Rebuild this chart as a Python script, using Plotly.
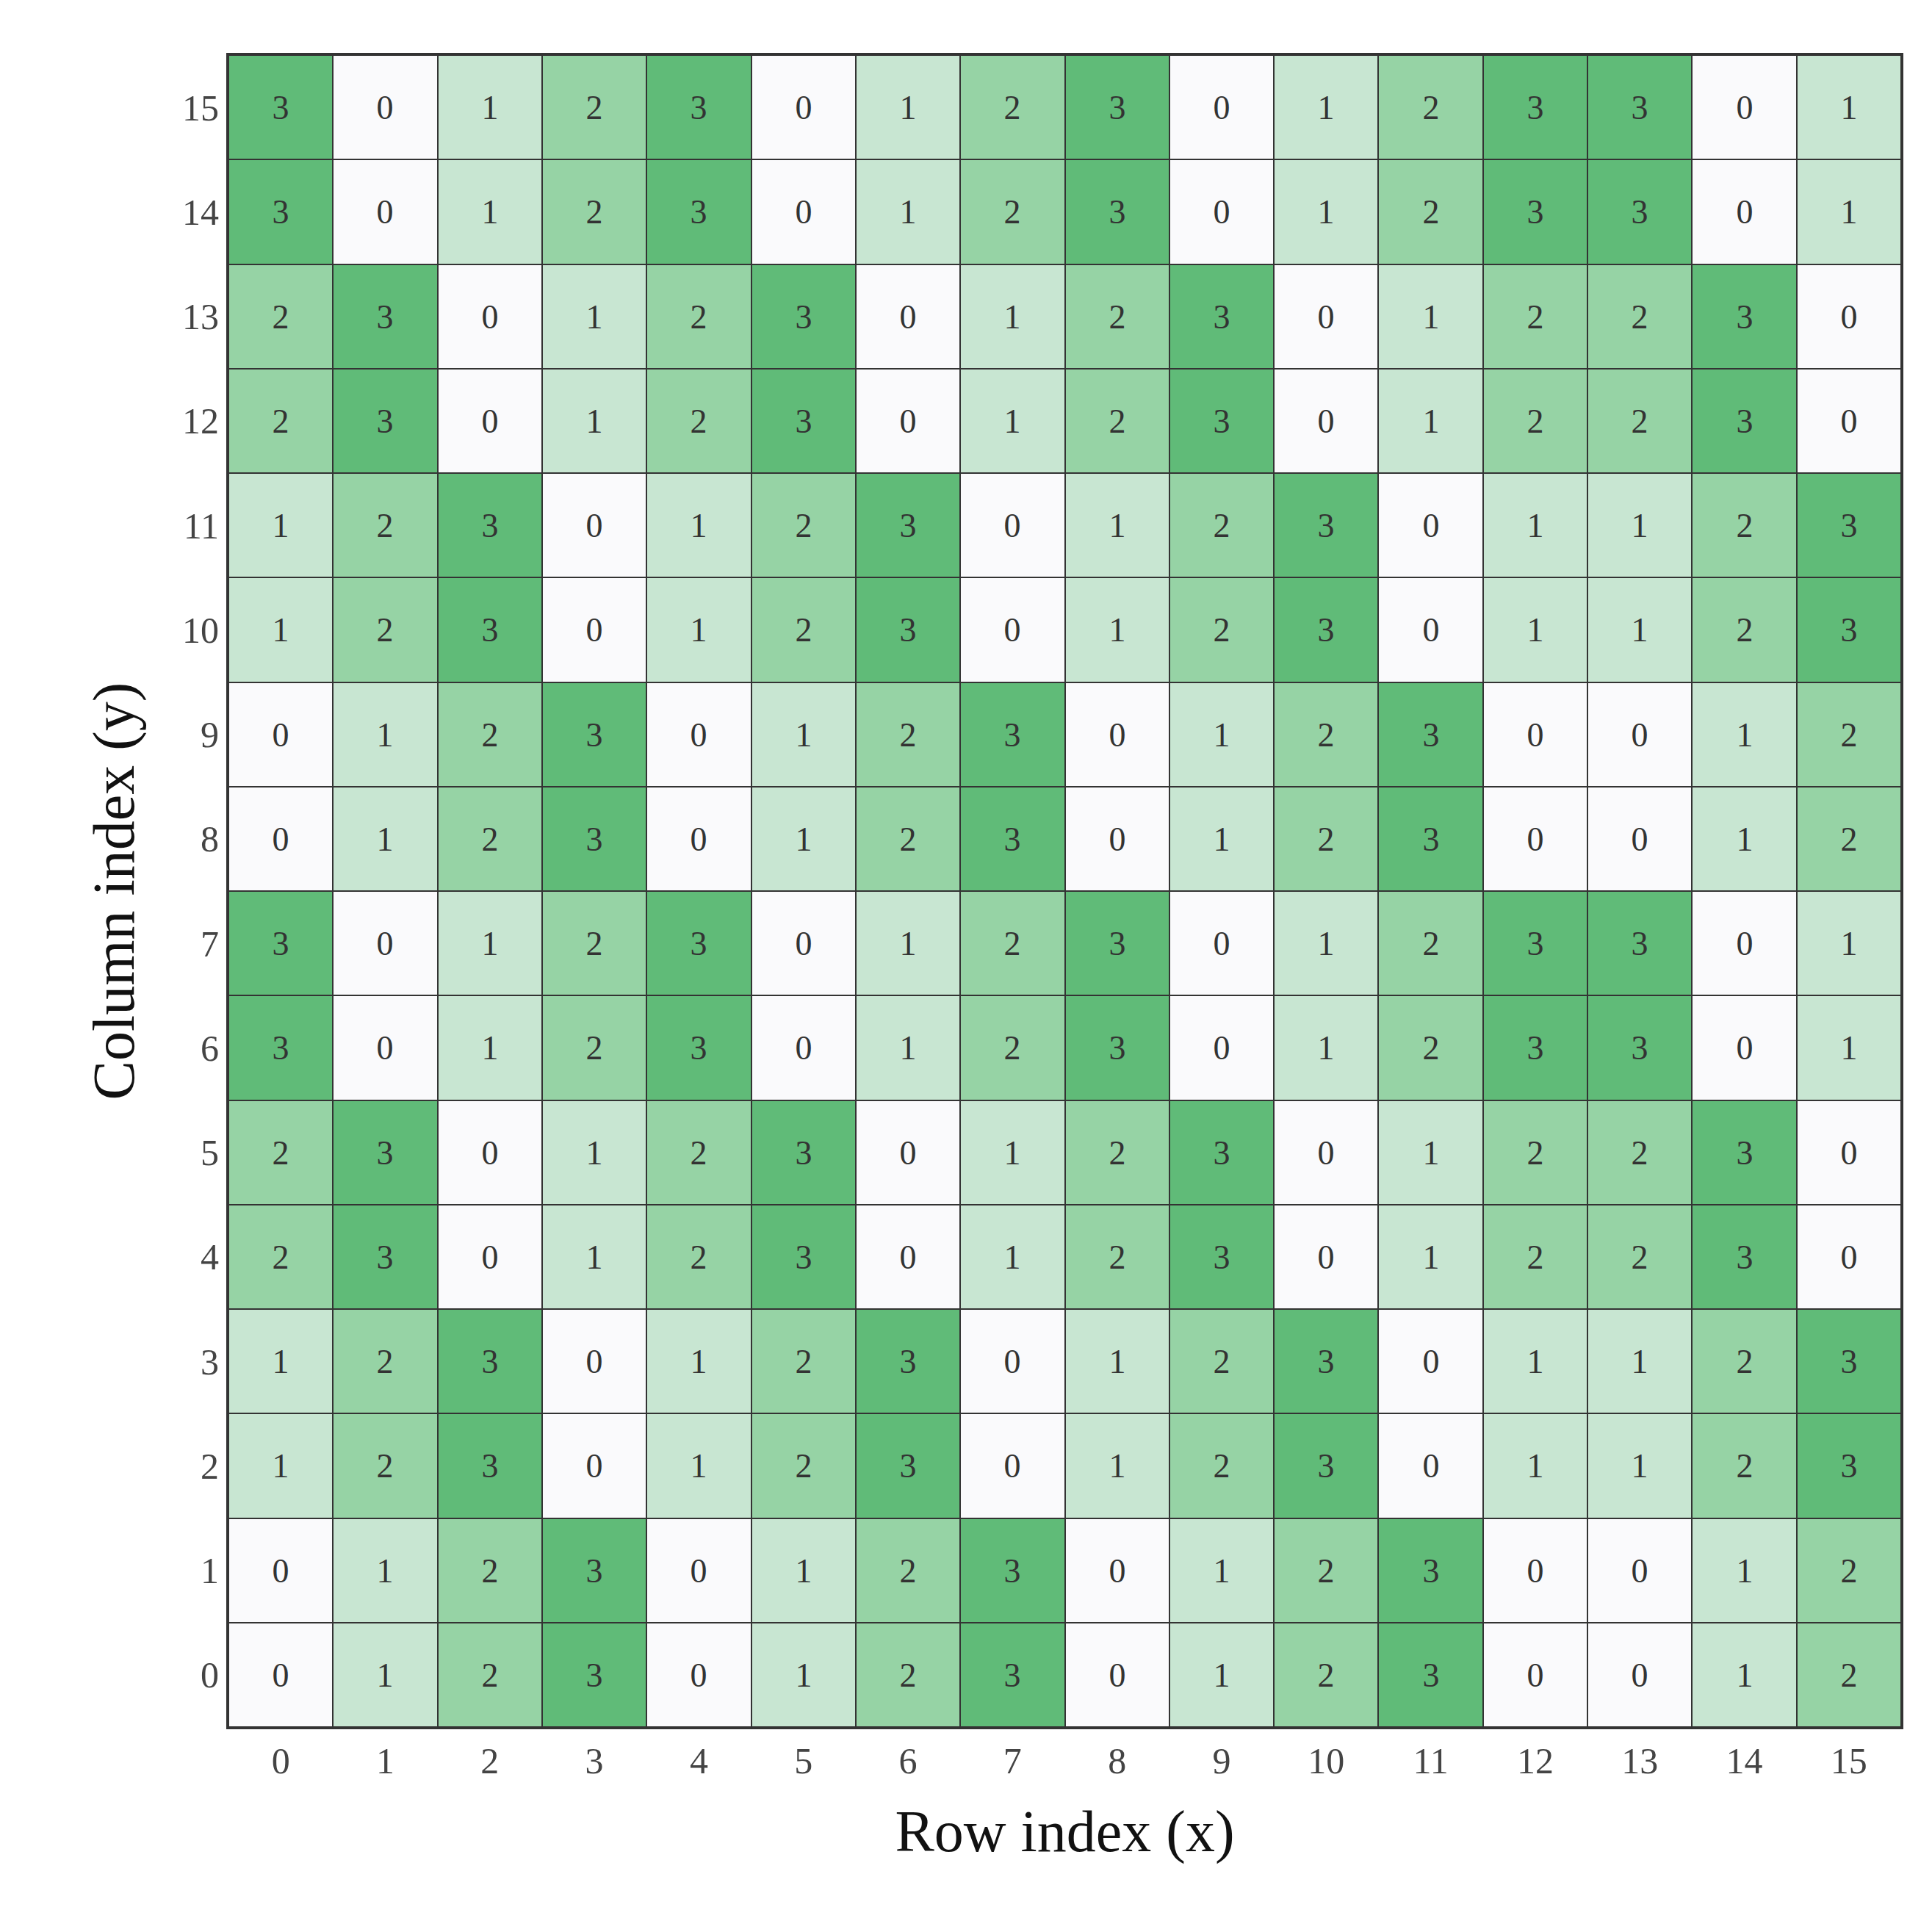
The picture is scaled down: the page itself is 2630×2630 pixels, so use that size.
import plotly.graph_objects as go

x_labels = list(range(16))
y_labels = list(range(16))

# rows listed from y=0 up to y=15
row_a = [0, 1, 2, 3, 0, 1, 2, 3, 0, 1, 2, 3, 0, 0, 1, 2]
row_b = [1, 2, 3, 0, 1, 2, 3, 0, 1, 2, 3, 0, 1, 1, 2, 3]
row_c = [2, 3, 0, 1, 2, 3, 0, 1, 2, 3, 0, 1, 2, 2, 3, 0]
row_d = [3, 0, 1, 2, 3, 0, 1, 2, 3, 0, 1, 2, 3, 3, 0, 1]
z = [row_a, row_a, row_b, row_b, row_c, row_c, row_d, row_d,
     row_a, row_a, row_b, row_b, row_c, row_c, row_d, row_d]

colorscale = [[0, "#fafafc"], [1/3, "#c8e6d2"], [2/3, "#96d3a5"], [1, "#60bb78"]]

fig = go.Figure(go.Heatmap(
    z=z, x=x_labels, y=y_labels, colorscale=colorscale, zmin=0, zmax=3,
    showscale=False, xgap=2, ygap=2,
    text=z, texttemplate="%{text}",
    textfont=dict(family="Liberation Serif", size=46, color="#333333"),
))

axis_common = dict(tickmode="array", tickvals=list(range(16)), showgrid=False, zeroline=False,
                   showline=True, linecolor="#333333", linewidth=3, mirror=True,
                   tickfont=dict(family="Liberation Serif", size=50, color="#444444"),
                   ticks="", range=[-0.5, 15.5])
fig.update_xaxes(**axis_common, title=dict(text="Row index (x)", standoff=40,
                 font=dict(family="Liberation Serif", size=80, color="#111111")))
fig.update_yaxes(**axis_common, title=dict(text="Column index (y)", standoff=40,
                 font=dict(family="Liberation Serif", size=80, color="#111111")))

fig.update_layout(
    width=2630, height=2630,
    margin=dict(l=303, r=50, t=67, b=287),
    plot_bgcolor="#333333", paper_bgcolor="white",
)

fig.write_html("out.html")
